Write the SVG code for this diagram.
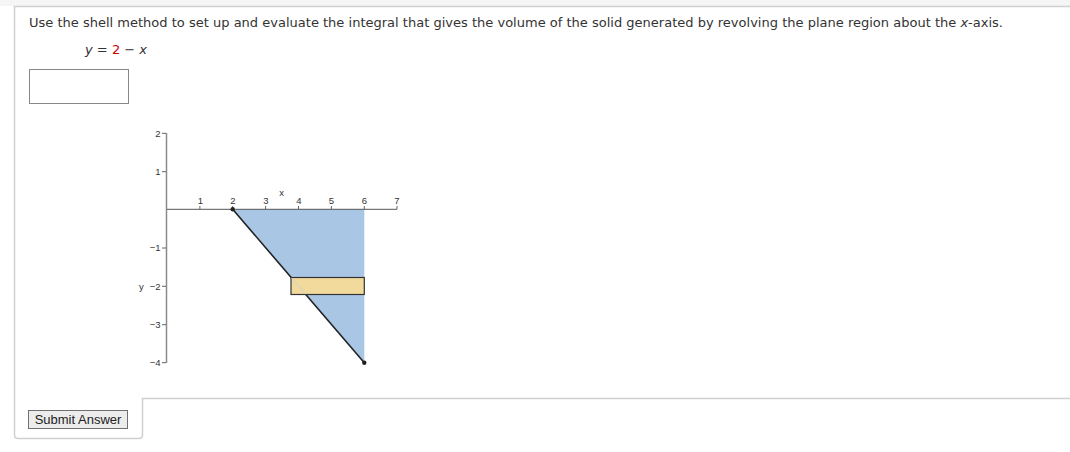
<svg xmlns="http://www.w3.org/2000/svg" width="1070" height="452" viewBox="0 0 1070 452">
<style>
.q{font-family:"DejaVu Sans",Verdana,sans-serif;font-size:13px;fill:#333}
.t{font-family:"Liberation Sans",Arial,sans-serif;font-size:9.5px;fill:#333}
.ax{stroke:#666;stroke-width:1;fill:none}
.frame{stroke:#d0d0d0;stroke-width:1.5;fill:none}
</style>
<rect x="0" y="0" width="1070" height="6" fill="#f5f5f5"/>
<rect x="0" y="6" width="1070" height="446" fill="#fff"/>
<g id="frame">
<path class="frame" d="M1070,6.5 H14.5 V435 Q14.5,438.5 18,438.5 H139 Q142.5,438.5 142.5,435 V398.5 H1070"/>
</g>
<g id="question">
<text class="q" x="29" y="27" textLength="974" lengthAdjust="spacing">Use the shell method to set up and evaluate the integral that gives the volume of the solid generated by revolving the plane region about the <tspan font-style="italic">x</tspan>-axis.</text>
<text class="q" x="85" y="54"><tspan font-style="italic">y</tspan> = <tspan fill="#cc0000">2</tspan> − <tspan font-style="italic">x</tspan></text>
</g>
<g id="answer-box">
<rect x="29.5" y="69.5" width="99" height="34" fill="#fff" stroke="#888" stroke-width="1"/>
</g>
<g id="graph">
<polygon points="232.7,209.3 364.3,209.3 364.3,362.7" fill="#a9c6e5"/>
<g id="axes">
<line x1="166.5" y1="133" x2="166.5" y2="363" stroke="#8a8a8a" stroke-width="1.5"/>
<line x1="167" y1="209.3" x2="397" y2="209.3" stroke="#555" stroke-width="1"/>
<path class="ax" d="M162,133.3H166M162,171.7H166M162,248H166M162,286.3H166M162,324.7H166M162,362.7H166"/>
<path class="ax" d="M199.9,209.3V206M232.7,209.3V206M265.6,209.3V206M298.5,209.3V206M331.4,209.3V206M364.3,209.3V206M397,209.3V206"/>
</g>
<g id="x-labels">
<text class="t" x="200.3" y="204" text-anchor="middle">1</text>
<text class="t" x="233" y="204" text-anchor="middle">2</text>
<text class="t" x="266" y="204" text-anchor="middle">3</text>
<text class="t" x="299" y="204" text-anchor="middle">4</text>
<text class="t" x="331.5" y="204" text-anchor="middle">5</text>
<text class="t" x="364.5" y="204" text-anchor="middle">6</text>
<text class="t" x="397" y="204" text-anchor="middle">7</text>
<text class="t" x="281.5" y="196" text-anchor="middle">x</text>
</g>
<g id="y-labels">
<text class="t" x="160.5" y="136.5" text-anchor="end">2</text>
<text class="t" x="160.5" y="175" text-anchor="end">1</text>
<text class="t" x="160.5" y="251.3" text-anchor="end">−1</text>
<text class="t" x="160.5" y="289.6" text-anchor="end">−2</text>
<text class="t" x="160.5" y="328" text-anchor="end">−3</text>
<text class="t" x="160.5" y="366" text-anchor="end">−4</text>
<text class="t" x="139" y="290">y</text>
</g>
<g id="curve">
<line x1="232.7" y1="209.3" x2="364.3" y2="362.7" stroke="#222" stroke-width="1.6"/>
<circle cx="232.7" cy="209.3" r="2.2" fill="#222"/>
<circle cx="364.3" cy="362.7" r="2.2" fill="#222"/>
</g>
<g id="shell-rect">
<rect x="291" y="277.5" width="73.3" height="17" fill="#f2d99c" stroke="#333" stroke-width="1.2"/>
<line x1="291.6" y1="278.1" x2="305.5" y2="294" stroke="#c5d3df" stroke-width="1"/>
</g>
</g>
<g id="submit">
<rect x="28.5" y="410.5" width="99" height="18" fill="#ececec" stroke="#707070" stroke-width="1"/>
<text x="78" y="424" text-anchor="middle" font-family="Liberation Sans, Arial, sans-serif" font-size="13" fill="#222">Submit Answer</text>
</g>
</svg>
